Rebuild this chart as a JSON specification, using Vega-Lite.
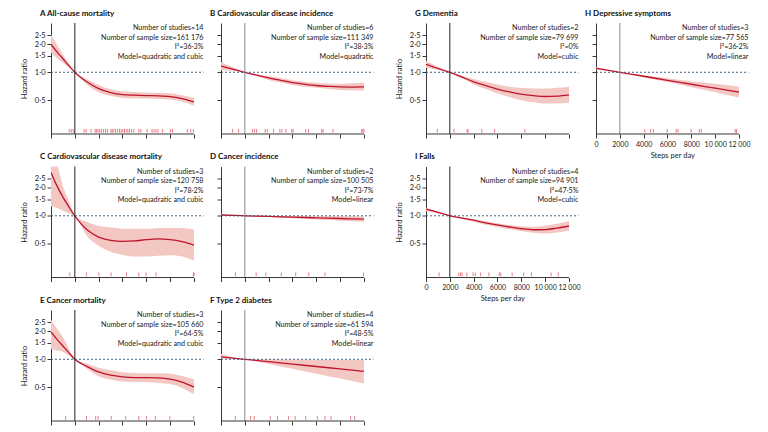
{
"$schema": "https://vega.github.io/schema/vega-lite/v6.json",
"padding": {"left": 20, "top": 9, "right": 2, "bottom": 2},
"bounds": "flush",
"columns": 4,
"spacing": {"row": 32.5, "column": 17},
"datasets": {
"curve": [
{"p":"A","steps":0,"hr":2.0,"lo":1.63,"hi":2.56},{"p":"A","steps":500,"hr":1.66,"lo":1.42,"hi":1.98},{"p":"A","steps":1000,"hr":1.40,"lo":1.27,"hi":1.56},{"p":"A","steps":1500,"hr":1.18,"lo":1.12,"hi":1.25},{"p":"A","steps":2000,"hr":1,"lo":1,"hi":1},{"p":"A","steps":3000,"hr":0.79,"lo":0.74,"hi":0.84},{"p":"A","steps":4000,"hr":0.667,"lo":0.61,"hi":0.73},{"p":"A","steps":5000,"hr":0.605,"lo":0.557,"hi":0.656},{"p":"A","steps":6000,"hr":0.575,"lo":0.53,"hi":0.625},{"p":"A","steps":7000,"hr":0.566,"lo":0.522,"hi":0.612},{"p":"A","steps":8000,"hr":0.56,"lo":0.52,"hi":0.605},{"p":"A","steps":9000,"hr":0.557,"lo":0.515,"hi":0.6},{"p":"A","steps":10000,"hr":0.547,"lo":0.51,"hi":0.595},{"p":"A","steps":11000,"hr":0.52,"lo":0.485,"hi":0.566},{"p":"A","steps":12000,"hr":0.48,"lo":0.435,"hi":0.53},
{"p":"B","steps":0,"hr":1.17,"lo":1.06,"hi":1.29},{"p":"B","steps":1000,"hr":1.08,"lo":1.03,"hi":1.13},{"p":"B","steps":2000,"hr":1,"lo":1,"hi":1},{"p":"B","steps":3000,"hr":0.93,"lo":0.91,"hi":0.955},{"p":"B","steps":4000,"hr":0.87,"lo":0.827,"hi":0.913},{"p":"B","steps":5000,"hr":0.82,"lo":0.775,"hi":0.865},{"p":"B","steps":6000,"hr":0.775,"lo":0.73,"hi":0.82},{"p":"B","steps":7000,"hr":0.745,"lo":0.7,"hi":0.79},{"p":"B","steps":8000,"hr":0.72,"lo":0.68,"hi":0.77},{"p":"B","steps":9000,"hr":0.705,"lo":0.66,"hi":0.757},{"p":"B","steps":10000,"hr":0.695,"lo":0.645,"hi":0.75},{"p":"B","steps":11000,"hr":0.693,"lo":0.64,"hi":0.76},{"p":"B","steps":12000,"hr":0.695,"lo":0.635,"hi":0.775},
{"p":"C","steps":0,"hr":2.93,"lo":1.26,"hi":4.5},{"p":"C","steps":500,"hr":2.1,"lo":1.22,"hi":3.6},{"p":"C","steps":1000,"hr":1.59,"lo":1.13,"hi":2.1},{"p":"C","steps":1500,"hr":1.25,"lo":1.06,"hi":1.45},{"p":"C","steps":2000,"hr":1,"lo":1,"hi":1},{"p":"C","steps":3000,"hr":0.71,"lo":0.61,"hi":0.86},{"p":"C","steps":4000,"hr":0.59,"lo":0.475,"hi":0.776},{"p":"C","steps":5000,"hr":0.544,"lo":0.41,"hi":0.75},{"p":"C","steps":6000,"hr":0.53,"lo":0.38,"hi":0.725},{"p":"C","steps":7000,"hr":0.535,"lo":0.363,"hi":0.725},{"p":"C","steps":8000,"hr":0.553,"lo":0.363,"hi":0.725},{"p":"C","steps":9000,"hr":0.563,"lo":0.37,"hi":0.74},{"p":"C","steps":10000,"hr":0.553,"lo":0.375,"hi":0.74},{"p":"C","steps":11000,"hr":0.526,"lo":0.363,"hi":0.74},{"p":"C","steps":12000,"hr":0.483,"lo":0.328,"hi":0.71},
{"p":"D","steps":0,"hr":1.02,"lo":1.0,"hi":1.04},{"p":"D","steps":2000,"hr":1,"lo":1,"hi":1},{"p":"D","steps":4000,"hr":0.983,"lo":0.97,"hi":0.997},{"p":"D","steps":6000,"hr":0.966,"lo":0.94,"hi":0.993},{"p":"D","steps":8000,"hr":0.95,"lo":0.91,"hi":0.99},{"p":"D","steps":10000,"hr":0.935,"lo":0.885,"hi":0.987},{"p":"D","steps":12000,"hr":0.92,"lo":0.86,"hi":0.985},
{"p":"E","steps":0,"hr":1.97,"lo":1.3,"hi":2.67},{"p":"E","steps":500,"hr":1.64,"lo":1.24,"hi":2.15},{"p":"E","steps":1000,"hr":1.39,"lo":1.2,"hi":1.74},{"p":"E","steps":1500,"hr":1.18,"lo":1.09,"hi":1.3},{"p":"E","steps":2000,"hr":1,"lo":1,"hi":1},{"p":"E","steps":3000,"hr":0.84,"lo":0.79,"hi":0.9},{"p":"E","steps":4000,"hr":0.73,"lo":0.657,"hi":0.81},{"p":"E","steps":5000,"hr":0.673,"lo":0.605,"hi":0.76},{"p":"E","steps":6000,"hr":0.646,"lo":0.575,"hi":0.725},{"p":"E","steps":7000,"hr":0.635,"lo":0.568,"hi":0.712},{"p":"E","steps":8000,"hr":0.635,"lo":0.566,"hi":0.707},{"p":"E","steps":9000,"hr":0.63,"lo":0.555,"hi":0.705},{"p":"E","steps":10000,"hr":0.61,"lo":0.54,"hi":0.7},{"p":"E","steps":11000,"hr":0.566,"lo":0.49,"hi":0.66},{"p":"E","steps":12000,"hr":0.5,"lo":0.42,"hi":0.61},
{"p":"F","steps":0,"hr":1.06,"lo":1.02,"hi":1.15},{"p":"F","steps":2000,"hr":1,"lo":1,"hi":1},{"p":"F","steps":4000,"hr":0.942,"lo":0.89,"hi":0.995},{"p":"F","steps":6000,"hr":0.888,"lo":0.79,"hi":0.99},{"p":"F","steps":8000,"hr":0.836,"lo":0.7,"hi":0.985},{"p":"F","steps":10000,"hr":0.788,"lo":0.62,"hi":0.98},{"p":"F","steps":12000,"hr":0.742,"lo":0.547,"hi":0.98},
{"p":"G","steps":0,"hr":1.22,"lo":1.12,"hi":1.33},{"p":"G","steps":1000,"hr":1.1,"lo":1.06,"hi":1.15},{"p":"G","steps":2000,"hr":1,"lo":1,"hi":1},{"p":"G","steps":3000,"hr":0.89,"lo":0.86,"hi":0.92},{"p":"G","steps":4000,"hr":0.79,"lo":0.74,"hi":0.846},{"p":"G","steps":5000,"hr":0.72,"lo":0.66,"hi":0.79},{"p":"G","steps":6000,"hr":0.66,"lo":0.59,"hi":0.74},{"p":"G","steps":7000,"hr":0.615,"lo":0.54,"hi":0.7},{"p":"G","steps":8000,"hr":0.58,"lo":0.5,"hi":0.68},{"p":"G","steps":9000,"hr":0.56,"lo":0.475,"hi":0.67},{"p":"G","steps":10000,"hr":0.548,"lo":0.46,"hi":0.67},{"p":"G","steps":11000,"hr":0.552,"lo":0.46,"hi":0.68},{"p":"G","steps":12000,"hr":0.57,"lo":0.47,"hi":0.7},
{"p":"H","steps":0,"hr":1.104,"lo":1.07,"hi":1.14},{"p":"H","steps":2000,"hr":1,"lo":1,"hi":1},{"p":"H","steps":4000,"hr":0.906,"lo":0.88,"hi":0.93},{"p":"H","steps":6000,"hr":0.82,"lo":0.785,"hi":0.86},{"p":"H","steps":8000,"hr":0.743,"lo":0.69,"hi":0.8},{"p":"H","steps":10000,"hr":0.673,"lo":0.61,"hi":0.75},{"p":"H","steps":12000,"hr":0.61,"lo":0.534,"hi":0.7},
{"p":"I","steps":0,"hr":1.18,"lo":1.125,"hi":1.22},{"p":"I","steps":1000,"hr":1.09,"lo":1.06,"hi":1.11},{"p":"I","steps":2000,"hr":1,"lo":1,"hi":1},{"p":"I","steps":3000,"hr":0.945,"lo":0.925,"hi":0.96},{"p":"I","steps":4000,"hr":0.896,"lo":0.86,"hi":0.92},{"p":"I","steps":5000,"hr":0.84,"lo":0.8,"hi":0.875},{"p":"I","steps":6000,"hr":0.796,"lo":0.757,"hi":0.83},{"p":"I","steps":7000,"hr":0.757,"lo":0.715,"hi":0.795},{"p":"I","steps":8000,"hr":0.725,"lo":0.68,"hi":0.77},{"p":"I","steps":9000,"hr":0.707,"lo":0.655,"hi":0.76},{"p":"I","steps":10000,"hr":0.71,"lo":0.645,"hi":0.78},{"p":"I","steps":11000,"hr":0.737,"lo":0.66,"hi":0.82},{"p":"I","steps":12000,"hr":0.776,"lo":0.695,"hi":0.88}
],
"rug": [
{"p":"A","steps":1530},{"p":"A","steps":1700},{"p":"A","steps":1860},{"p":"A","steps":2780},{"p":"A","steps":2950},{"p":"A","steps":3360},{"p":"A","steps":3700},{"p":"A","steps":3810},{"p":"A","steps":3950},{"p":"A","steps":4090},{"p":"A","steps":4250},{"p":"A","steps":4420},{"p":"A","steps":4590},{"p":"A","steps":4750},{"p":"A","steps":5030},{"p":"A","steps":5140},{"p":"A","steps":5280},{"p":"A","steps":5420},{"p":"A","steps":5590},{"p":"A","steps":5750},{"p":"A","steps":5890},{"p":"A","steps":6030},{"p":"A","steps":6170},{"p":"A","steps":6310},{"p":"A","steps":6450},{"p":"A","steps":6590},{"p":"A","steps":6760},{"p":"A","steps":6950},{"p":"A","steps":7370},{"p":"A","steps":7540},{"p":"A","steps":8060},{"p":"A","steps":8480},{"p":"A","steps":8650},{"p":"A","steps":8810},{"p":"A","steps":8980},{"p":"A","steps":9370},{"p":"A","steps":10040},{"p":"A","steps":10200},{"p":"A","steps":11450},{"p":"A","steps":11730},{"p":"A","steps":11950},
{"p":"B","steps":976},{"p":"B","steps":1480},{"p":"B","steps":2650},{"p":"B","steps":2820},{"p":"B","steps":2990},{"p":"B","steps":3710},{"p":"B","steps":3880},{"p":"B","steps":4410},{"p":"B","steps":4940},{"p":"B","steps":5110},{"p":"B","steps":5440},{"p":"B","steps":5940},{"p":"B","steps":6050},{"p":"B","steps":7110},{"p":"B","steps":7340},{"p":"B","steps":8450},{"p":"B","steps":8570},{"p":"B","steps":9400},{"p":"B","steps":11800},{"p":"B","steps":11910},{"p":"B","steps":12000},
{"p":"C","steps":1580},{"p":"C","steps":2970},{"p":"C","steps":4030},{"p":"C","steps":5040},{"p":"C","steps":6340},{"p":"C","steps":7370},{"p":"C","steps":7980},{"p":"C","steps":8810},{"p":"C","steps":11950},{"p":"C","steps":12000},
{"p":"D","steps":1210},{"p":"D","steps":2950},{"p":"D","steps":3760},{"p":"D","steps":5060},{"p":"D","steps":6270},{"p":"D","steps":7370},{"p":"D","steps":8730},{"p":"D","steps":11960},
{"p":"E","steps":1230},{"p":"E","steps":2980},{"p":"E","steps":3750},{"p":"E","steps":3950},{"p":"E","steps":5050},{"p":"E","steps":6270},{"p":"E","steps":7370},{"p":"E","steps":8010},{"p":"E","steps":8760},{"p":"E","steps":9980},{"p":"E","steps":11980},
{"p":"F","steps":1200},{"p":"F","steps":2480},{"p":"F","steps":2790},{"p":"F","steps":4130},{"p":"F","steps":4740},{"p":"F","steps":5660},{"p":"F","steps":6220},{"p":"F","steps":7110},{"p":"F","steps":8090},{"p":"F","steps":8730},{"p":"F","steps":9230},{"p":"F","steps":10880},{"p":"F","steps":11220},
{"p":"G","steps":950},{"p":"G","steps":2350},{"p":"G","steps":3450},{"p":"G","steps":3530},{"p":"G","steps":4680},{"p":"G","steps":5760},{"p":"G","steps":8300},
{"p":"H","steps":4090},{"p":"H","steps":4590},{"p":"H","steps":4810},{"p":"H","steps":5980},{"p":"H","steps":6730},{"p":"H","steps":6890},{"p":"H","steps":7980},{"p":"H","steps":8670},{"p":"H","steps":8840},{"p":"H","steps":11680},{"p":"H","steps":11790},
{"p":"I","steps":1100},{"p":"I","steps":2750},{"p":"I","steps":2900},{"p":"I","steps":3020},{"p":"I","steps":3430},{"p":"I","steps":3950},{"p":"I","steps":4140},{"p":"I","steps":4570},{"p":"I","steps":5280},{"p":"I","steps":6150},{"p":"I","steps":6280},{"p":"I","steps":7230},{"p":"I","steps":8200},{"p":"I","steps":8850},{"p":"I","steps":10500},{"p":"I","steps":11100}
],
"info": [
{"p":"A","label":"Number of studies=14\nNumber of sample size=161 176\nI²=36·3%\nModel=quadratic and cubic"},
{"p":"B","label":"Number of studies=6\nNumber of sample size=111 349\nI²=38·3%\nModel=quadratic"},
{"p":"C","label":"Number of studies=3\nNumber of sample size=120 758\nI²=78·2%\nModel=quadratic and cubic"},
{"p":"D","label":"Number of studies=2\nNumber of sample size=100 505\nI²=73·7%\nModel=linear"},
{"p":"E","label":"Number of studies=3\nNumber of sample size=105 660\nI²=64·5%\nModel=quadratic and cubic"},
{"p":"F","label":"Number of studies=4\nNumber of sample size=61 594\nI²=48·5%\nModel=linear"},
{"p":"G","label":"Number of studies=2\nNumber of sample size=79 699\nI²=0%\nModel=cubic"},
{"p":"H","label":"Number of studies=3\nNumber of sample size=77 565\nI²=36·2%\nModel=linear"},
{"p":"I","label":"Number of studies=4\nNumber of sample size=94 901\nI²=47·5%\nModel=cubic"}
]
},
"concat": [
{"width": 152.5, "height": 111, "title": "A  All-cause mortality",
 "data": {"name": "info"}, "transform": [{"filter": "datum.p=='A'"}],
 "layer": [
  {"data": {"name": "curve"}, "transform": [{"filter": "datum.p=='A'"}], "mark": {"type": "area", "color": "#f3c8c3", "interpolate": "monotone", "clip": true},
   "encoding": {"x": {"field": "steps", "type": "quantitative", "scale": {"domain": [0, 12800], "nice": false}, "axis": {"values": [0,2000,4000,6000,8000,10000,12000], "tickCount": 20, "labels": false, "domain": false, "tickSize": 4, "title": null, "grid": false}},
    "y": {"field": "lo", "type": "quantitative", "scale": {"type": "log", "domain": [0.216, 3.4], "nice": false}, "axis": {"values": [0.5,1,1.5,2,2.5], "tickCount": 20, "tickSize": 4, "grid": false, "title": "Hazard ratio", "labelExpr": "replace(format(datum.value,'.1f'),'.','·')", "labelPadding": 2, "titlePadding": 6}},
    "y2": {"field": "hi"}}},
  {"data": {"name": "curve"}, "transform": [{"filter": "datum.p=='A'"}], "mark": {"type": "line", "color": "#c0132d", "strokeWidth": 1.3, "interpolate": "monotone", "clip": true},
   "encoding": {"x": {"field": "steps", "type": "quantitative"}, "y": {"field": "hr", "type": "quantitative"}}},
  {"mark": {"type": "rule", "color": "#222", "strokeWidth": 1}, "encoding": {"x": {"datum": 2000}}},
  {"mark": {"type": "rule", "color": "#2d5675", "strokeDash": [2, 2], "strokeWidth": 0.9}, "encoding": {"x": {"datum": 0}, "x2": {"datum": 12800}, "y": {"datum": 1}}},
  {"mark": {"type": "rule", "color": "#222", "strokeWidth": 0.9}, "encoding": {"x": {"datum": 0}, "x2": {"datum": 12000}, "y": {"datum": 0.216}}},
  {"data": {"name": "rug"}, "transform": [{"filter": "datum.p=='A'"}], "mark": {"type": "rule", "color": "#e25a66", "strokeWidth": 0.8}, "encoding": {"x": {"field": "steps", "type": "quantitative"}, "y": {"datum": 0.223}, "y2": {"datum": 0.245}}},
  {"mark": {"type": "text", "align": "right", "baseline": "top", "lineBreak": "\n", "lineHeight": 9.5, "dy": 1}, "encoding": {"x": {"datum": 12800}, "y": {"datum": 3.4}, "text": {"field": "label"}}}
 ]},
{"width": 188, "height": 111, "title": "B  Cardiovascular disease incidence",
 "data": {"name": "info"}, "transform": [{"filter": "datum.p=='B'"}],
 "layer": [
  {"data": {"name": "curve"}, "transform": [{"filter": "datum.p=='B'"}], "mark": {"type": "area", "color": "#f3c8c3", "interpolate": "monotone", "clip": true},
   "encoding": {"x": {"field": "steps", "type": "quantitative", "scale": {"domain": [0, 15780], "nice": false}, "axis": {"values": [0,2000,4000,6000,8000,10000,12000], "tickCount": 20, "labels": false, "domain": false, "tickSize": 4, "title": null, "grid": false}},
    "y": {"field": "lo", "type": "quantitative", "scale": {"type": "log", "domain": [0.216, 3.4], "nice": false}, "axis": {"values": [0.5,1,1.5,2,2.5], "tickCount": 20, "tickSize": 4, "grid": false, "title": null, "labels": false}},
    "y2": {"field": "hi"}}},
  {"data": {"name": "curve"}, "transform": [{"filter": "datum.p=='B'"}], "mark": {"type": "line", "color": "#c0132d", "strokeWidth": 1.3, "interpolate": "monotone", "clip": true},
   "encoding": {"x": {"field": "steps", "type": "quantitative"}, "y": {"field": "hr", "type": "quantitative"}}},
  {"mark": {"type": "rule", "color": "#8a8a8a", "strokeWidth": 1}, "encoding": {"x": {"datum": 2000}}},
  {"mark": {"type": "rule", "color": "#2d5675", "strokeDash": [2, 2], "strokeWidth": 0.9}, "encoding": {"x": {"datum": 0}, "x2": {"datum": 12800}, "y": {"datum": 1}}},
  {"mark": {"type": "rule", "color": "#222", "strokeWidth": 0.9}, "encoding": {"x": {"datum": 0}, "x2": {"datum": 12000}, "y": {"datum": 0.216}}},
  {"data": {"name": "rug"}, "transform": [{"filter": "datum.p=='B'"}], "mark": {"type": "rule", "color": "#e25a66", "strokeWidth": 0.8}, "encoding": {"x": {"field": "steps", "type": "quantitative"}, "y": {"datum": 0.223}, "y2": {"datum": 0.245}}},
  {"mark": {"type": "text", "align": "right", "baseline": "top", "lineBreak": "\n", "lineHeight": 9.5, "dy": 1}, "encoding": {"x": {"datum": 12800}, "y": {"datum": 3.4}, "text": {"field": "label"}}}
 ]},
{"width": 152.5, "height": 111, "title": "G  Dementia",
 "data": {"name": "info"}, "transform": [{"filter": "datum.p=='G'"}],
 "layer": [
  {"data": {"name": "curve"}, "transform": [{"filter": "datum.p=='G'"}], "mark": {"type": "area", "color": "#f3c8c3", "interpolate": "monotone", "clip": true},
   "encoding": {"x": {"field": "steps", "type": "quantitative", "scale": {"domain": [0, 12800], "nice": false}, "axis": {"values": [0,2000,4000,6000,8000,10000,12000], "tickCount": 20, "labels": false, "domain": false, "tickSize": 4, "title": null, "grid": false}},
    "y": {"field": "lo", "type": "quantitative", "scale": {"type": "log", "domain": [0.216, 3.4], "nice": false}, "axis": {"values": [0.5,1,1.5,2,2.5], "tickCount": 20, "tickSize": 4, "grid": false, "title": "Hazard ratio", "labelExpr": "replace(format(datum.value,'.1f'),'.','·')", "labelPadding": 2, "titlePadding": 6}},
    "y2": {"field": "hi"}}},
  {"data": {"name": "curve"}, "transform": [{"filter": "datum.p=='G'"}], "mark": {"type": "line", "color": "#c0132d", "strokeWidth": 1.3, "interpolate": "monotone", "clip": true},
   "encoding": {"x": {"field": "steps", "type": "quantitative"}, "y": {"field": "hr", "type": "quantitative"}}},
  {"mark": {"type": "rule", "color": "#222", "strokeWidth": 1}, "encoding": {"x": {"datum": 2000}}},
  {"mark": {"type": "rule", "color": "#2d5675", "strokeDash": [2, 2], "strokeWidth": 0.9}, "encoding": {"x": {"datum": 0}, "x2": {"datum": 12800}, "y": {"datum": 1}}},
  {"mark": {"type": "rule", "color": "#222", "strokeWidth": 0.9}, "encoding": {"x": {"datum": 0}, "x2": {"datum": 12000}, "y": {"datum": 0.216}}},
  {"data": {"name": "rug"}, "transform": [{"filter": "datum.p=='G'"}], "mark": {"type": "rule", "color": "#e25a66", "strokeWidth": 0.8}, "encoding": {"x": {"field": "steps", "type": "quantitative"}, "y": {"datum": 0.223}, "y2": {"datum": 0.245}}},
  {"mark": {"type": "text", "align": "right", "baseline": "top", "lineBreak": "\n", "lineHeight": 9.5, "dy": 1}, "encoding": {"x": {"datum": 12800}, "y": {"datum": 3.4}, "text": {"field": "label"}}}
 ]},
{"width": 152.5, "height": 111, "title": "H  Depressive symptoms",
 "data": {"name": "info"}, "transform": [{"filter": "datum.p=='H'"}],
 "layer": [
  {"data": {"name": "curve"}, "transform": [{"filter": "datum.p=='H'"}], "mark": {"type": "area", "color": "#f3c8c3", "interpolate": "monotone", "clip": true},
   "encoding": {"x": {"field": "steps", "type": "quantitative", "scale": {"domain": [0, 12800], "nice": false}, "axis": {"values": [0,2000,4000,6000,8000,10000,12000], "tickCount": 20, "domain": false, "tickSize": 4, "title": "Steps per day", "grid": false, "labelOverlap": false, "labelFlush": false, "labelBound": false, "labelFontSize": 7, "labelExpr": "datum.value >= 10000 ? (datum.value/1000) + ' 000' : format(datum.value, 'd')", "labelPadding": 2, "titlePadding": 4}},
    "y": {"field": "lo", "type": "quantitative", "scale": {"type": "log", "domain": [0.216, 3.4], "nice": false}, "axis": {"values": [0.5,1,1.5,2,2.5], "tickCount": 20, "tickSize": 4, "grid": false, "title": null, "labels": false}},
    "y2": {"field": "hi"}}},
  {"data": {"name": "curve"}, "transform": [{"filter": "datum.p=='H'"}], "mark": {"type": "line", "color": "#c0132d", "strokeWidth": 1.3, "interpolate": "monotone", "clip": true},
   "encoding": {"x": {"field": "steps", "type": "quantitative"}, "y": {"field": "hr", "type": "quantitative"}}},
  {"mark": {"type": "rule", "color": "#8a8a8a", "strokeWidth": 1}, "encoding": {"x": {"datum": 2000}}},
  {"mark": {"type": "rule", "color": "#2d5675", "strokeDash": [2, 2], "strokeWidth": 0.9}, "encoding": {"x": {"datum": 0}, "x2": {"datum": 12800}, "y": {"datum": 1}}},
  {"mark": {"type": "rule", "color": "#222", "strokeWidth": 0.9}, "encoding": {"x": {"datum": 0}, "x2": {"datum": 12000}, "y": {"datum": 0.216}}},
  {"data": {"name": "rug"}, "transform": [{"filter": "datum.p=='H'"}], "mark": {"type": "rule", "color": "#e25a66", "strokeWidth": 0.8}, "encoding": {"x": {"field": "steps", "type": "quantitative"}, "y": {"datum": 0.223}, "y2": {"datum": 0.245}}},
  {"mark": {"type": "text", "align": "right", "baseline": "top", "lineBreak": "\n", "lineHeight": 9.5, "dy": 1}, "encoding": {"x": {"datum": 12800}, "y": {"datum": 3.4}, "text": {"field": "label"}}}
 ]},
{"width": 152.5, "height": 111, "title": "C  Cardiovascular disease mortality",
 "data": {"name": "info"}, "transform": [{"filter": "datum.p=='C'"}],
 "layer": [
  {"data": {"name": "curve"}, "transform": [{"filter": "datum.p=='C'"}], "mark": {"type": "area", "color": "#f3c8c3", "interpolate": "monotone", "clip": true},
   "encoding": {"x": {"field": "steps", "type": "quantitative", "scale": {"domain": [0, 12800], "nice": false}, "axis": {"values": [0,2000,4000,6000,8000,10000,12000], "tickCount": 20, "labels": false, "domain": false, "tickSize": 4, "title": null, "grid": false}},
    "y": {"field": "lo", "type": "quantitative", "scale": {"type": "log", "domain": [0.216, 3.4], "nice": false}, "axis": {"values": [0.5,1,1.5,2,2.5], "tickCount": 20, "tickSize": 4, "grid": false, "title": "Hazard ratio", "labelExpr": "replace(format(datum.value,'.1f'),'.','·')", "labelPadding": 2, "titlePadding": 6}},
    "y2": {"field": "hi"}}},
  {"data": {"name": "curve"}, "transform": [{"filter": "datum.p=='C'"}], "mark": {"type": "line", "color": "#c0132d", "strokeWidth": 1.3, "interpolate": "monotone", "clip": true},
   "encoding": {"x": {"field": "steps", "type": "quantitative"}, "y": {"field": "hr", "type": "quantitative"}}},
  {"mark": {"type": "rule", "color": "#222", "strokeWidth": 1}, "encoding": {"x": {"datum": 2000}}},
  {"mark": {"type": "rule", "color": "#2d5675", "strokeDash": [2, 2], "strokeWidth": 0.9}, "encoding": {"x": {"datum": 0}, "x2": {"datum": 12800}, "y": {"datum": 1}}},
  {"mark": {"type": "rule", "color": "#222", "strokeWidth": 0.9}, "encoding": {"x": {"datum": 0}, "x2": {"datum": 12000}, "y": {"datum": 0.216}}},
  {"data": {"name": "rug"}, "transform": [{"filter": "datum.p=='C'"}], "mark": {"type": "rule", "color": "#e25a66", "strokeWidth": 0.8}, "encoding": {"x": {"field": "steps", "type": "quantitative"}, "y": {"datum": 0.223}, "y2": {"datum": 0.245}}},
  {"mark": {"type": "text", "align": "right", "baseline": "top", "lineBreak": "\n", "lineHeight": 9.5, "dy": 1}, "encoding": {"x": {"datum": 12800}, "y": {"datum": 3.4}, "text": {"field": "label"}}}
 ]},
{"width": 188, "height": 111, "title": "D  Cancer incidence",
 "data": {"name": "info"}, "transform": [{"filter": "datum.p=='D'"}],
 "layer": [
  {"data": {"name": "curve"}, "transform": [{"filter": "datum.p=='D'"}], "mark": {"type": "area", "color": "#f3c8c3", "interpolate": "monotone", "clip": true},
   "encoding": {"x": {"field": "steps", "type": "quantitative", "scale": {"domain": [0, 15780], "nice": false}, "axis": {"values": [0,2000,4000,6000,8000,10000,12000], "tickCount": 20, "labels": false, "domain": false, "tickSize": 4, "title": null, "grid": false}},
    "y": {"field": "lo", "type": "quantitative", "scale": {"type": "log", "domain": [0.216, 3.4], "nice": false}, "axis": {"values": [0.5,1,1.5,2,2.5], "tickCount": 20, "tickSize": 4, "grid": false, "title": null, "labels": false}},
    "y2": {"field": "hi"}}},
  {"data": {"name": "curve"}, "transform": [{"filter": "datum.p=='D'"}], "mark": {"type": "line", "color": "#c0132d", "strokeWidth": 1.3, "interpolate": "monotone", "clip": true},
   "encoding": {"x": {"field": "steps", "type": "quantitative"}, "y": {"field": "hr", "type": "quantitative"}}},
  {"mark": {"type": "rule", "color": "#8a8a8a", "strokeWidth": 1}, "encoding": {"x": {"datum": 2000}}},
  {"mark": {"type": "rule", "color": "#2d5675", "strokeDash": [2, 2], "strokeWidth": 0.9}, "encoding": {"x": {"datum": 0}, "x2": {"datum": 12800}, "y": {"datum": 1}}},
  {"mark": {"type": "rule", "color": "#222", "strokeWidth": 0.9}, "encoding": {"x": {"datum": 0}, "x2": {"datum": 12000}, "y": {"datum": 0.216}}},
  {"data": {"name": "rug"}, "transform": [{"filter": "datum.p=='D'"}], "mark": {"type": "rule", "color": "#e25a66", "strokeWidth": 0.8}, "encoding": {"x": {"field": "steps", "type": "quantitative"}, "y": {"datum": 0.223}, "y2": {"datum": 0.245}}},
  {"mark": {"type": "text", "align": "right", "baseline": "top", "lineBreak": "\n", "lineHeight": 9.5, "dy": 1}, "encoding": {"x": {"datum": 12800}, "y": {"datum": 3.4}, "text": {"field": "label"}}}
 ]},
{"width": 152.5, "height": 111, "title": "I  Falls",
 "data": {"name": "info"}, "transform": [{"filter": "datum.p=='I'"}],
 "layer": [
  {"data": {"name": "curve"}, "transform": [{"filter": "datum.p=='I'"}], "mark": {"type": "area", "color": "#f3c8c3", "interpolate": "monotone", "clip": true},
   "encoding": {"x": {"field": "steps", "type": "quantitative", "scale": {"domain": [0, 12800], "nice": false}, "axis": {"values": [0,2000,4000,6000,8000,10000,12000], "tickCount": 20, "domain": false, "tickSize": 4, "title": "Steps per day", "grid": false, "labelOverlap": false, "labelFlush": false, "labelBound": false, "labelFontSize": 7, "labelExpr": "datum.value >= 10000 ? (datum.value/1000) + ' 000' : format(datum.value, 'd')", "labelPadding": 2, "titlePadding": 4}},
    "y": {"field": "lo", "type": "quantitative", "scale": {"type": "log", "domain": [0.216, 3.4], "nice": false}, "axis": {"values": [0.5,1,1.5,2,2.5], "tickCount": 20, "tickSize": 4, "grid": false, "title": "Hazard ratio", "labelExpr": "replace(format(datum.value,'.1f'),'.','·')", "labelPadding": 2, "titlePadding": 6}},
    "y2": {"field": "hi"}}},
  {"data": {"name": "curve"}, "transform": [{"filter": "datum.p=='I'"}], "mark": {"type": "line", "color": "#c0132d", "strokeWidth": 1.3, "interpolate": "monotone", "clip": true},
   "encoding": {"x": {"field": "steps", "type": "quantitative"}, "y": {"field": "hr", "type": "quantitative"}}},
  {"mark": {"type": "rule", "color": "#222", "strokeWidth": 1}, "encoding": {"x": {"datum": 2000}}},
  {"mark": {"type": "rule", "color": "#2d5675", "strokeDash": [2, 2], "strokeWidth": 0.9}, "encoding": {"x": {"datum": 0}, "x2": {"datum": 12800}, "y": {"datum": 1}}},
  {"mark": {"type": "rule", "color": "#222", "strokeWidth": 0.9}, "encoding": {"x": {"datum": 0}, "x2": {"datum": 12000}, "y": {"datum": 0.216}}},
  {"data": {"name": "rug"}, "transform": [{"filter": "datum.p=='I'"}], "mark": {"type": "rule", "color": "#e25a66", "strokeWidth": 0.8}, "encoding": {"x": {"field": "steps", "type": "quantitative"}, "y": {"datum": 0.223}, "y2": {"datum": 0.245}}},
  {"mark": {"type": "text", "align": "right", "baseline": "top", "lineBreak": "\n", "lineHeight": 9.5, "dy": 1}, "encoding": {"x": {"datum": 12800}, "y": {"datum": 3.4}, "text": {"field": "label"}}}
 ]},
{"width": 152.5, "height": 111, "data": {"name": "info"}, "transform": [{"filter": "false"}], "mark": {"type": "point"}, "encoding": {}},
{"width": 152.5, "height": 111, "title": "E  Cancer mortality",
 "data": {"name": "info"}, "transform": [{"filter": "datum.p=='E'"}],
 "layer": [
  {"data": {"name": "curve"}, "transform": [{"filter": "datum.p=='E'"}], "mark": {"type": "area", "color": "#f3c8c3", "interpolate": "monotone", "clip": true},
   "encoding": {"x": {"field": "steps", "type": "quantitative", "scale": {"domain": [0, 12800], "nice": false}, "axis": {"values": [0,2000,4000,6000,8000,10000,12000], "tickCount": 20, "labels": false, "domain": false, "tickSize": 4, "title": null, "grid": false}},
    "y": {"field": "lo", "type": "quantitative", "scale": {"type": "log", "domain": [0.216, 3.4], "nice": false}, "axis": {"values": [0.5,1,1.5,2,2.5], "tickCount": 20, "tickSize": 4, "grid": false, "title": "Hazard ratio", "labelExpr": "replace(format(datum.value,'.1f'),'.','·')", "labelPadding": 2, "titlePadding": 6}},
    "y2": {"field": "hi"}}},
  {"data": {"name": "curve"}, "transform": [{"filter": "datum.p=='E'"}], "mark": {"type": "line", "color": "#c0132d", "strokeWidth": 1.3, "interpolate": "monotone", "clip": true},
   "encoding": {"x": {"field": "steps", "type": "quantitative"}, "y": {"field": "hr", "type": "quantitative"}}},
  {"mark": {"type": "rule", "color": "#222", "strokeWidth": 1}, "encoding": {"x": {"datum": 2000}}},
  {"mark": {"type": "rule", "color": "#2d5675", "strokeDash": [2, 2], "strokeWidth": 0.9}, "encoding": {"x": {"datum": 0}, "x2": {"datum": 12800}, "y": {"datum": 1}}},
  {"mark": {"type": "rule", "color": "#222", "strokeWidth": 0.9}, "encoding": {"x": {"datum": 0}, "x2": {"datum": 12000}, "y": {"datum": 0.216}}},
  {"data": {"name": "rug"}, "transform": [{"filter": "datum.p=='E'"}], "mark": {"type": "rule", "color": "#e25a66", "strokeWidth": 0.8}, "encoding": {"x": {"field": "steps", "type": "quantitative"}, "y": {"datum": 0.223}, "y2": {"datum": 0.245}}},
  {"mark": {"type": "text", "align": "right", "baseline": "top", "lineBreak": "\n", "lineHeight": 9.5, "dy": 1}, "encoding": {"x": {"datum": 12800}, "y": {"datum": 3.4}, "text": {"field": "label"}}}
 ]},
{"width": 188, "height": 111, "title": "F  Type 2 diabetes",
 "data": {"name": "info"}, "transform": [{"filter": "datum.p=='F'"}],
 "layer": [
  {"data": {"name": "curve"}, "transform": [{"filter": "datum.p=='F'"}], "mark": {"type": "area", "color": "#f3c8c3", "interpolate": "monotone", "clip": true},
   "encoding": {"x": {"field": "steps", "type": "quantitative", "scale": {"domain": [0, 15780], "nice": false}, "axis": {"values": [0,2000,4000,6000,8000,10000,12000], "tickCount": 20, "labels": false, "domain": false, "tickSize": 4, "title": null, "grid": false}},
    "y": {"field": "lo", "type": "quantitative", "scale": {"type": "log", "domain": [0.216, 3.4], "nice": false}, "axis": {"values": [0.5,1,1.5,2,2.5], "tickCount": 20, "tickSize": 4, "grid": false, "title": null, "labels": false}},
    "y2": {"field": "hi"}}},
  {"data": {"name": "curve"}, "transform": [{"filter": "datum.p=='F'"}], "mark": {"type": "line", "color": "#c0132d", "strokeWidth": 1.3, "interpolate": "monotone", "clip": true},
   "encoding": {"x": {"field": "steps", "type": "quantitative"}, "y": {"field": "hr", "type": "quantitative"}}},
  {"mark": {"type": "rule", "color": "#8a8a8a", "strokeWidth": 1}, "encoding": {"x": {"datum": 2000}}},
  {"mark": {"type": "rule", "color": "#2d5675", "strokeDash": [2, 2], "strokeWidth": 0.9}, "encoding": {"x": {"datum": 0}, "x2": {"datum": 12800}, "y": {"datum": 1}}},
  {"mark": {"type": "rule", "color": "#222", "strokeWidth": 0.9}, "encoding": {"x": {"datum": 0}, "x2": {"datum": 12000}, "y": {"datum": 0.216}}},
  {"data": {"name": "rug"}, "transform": [{"filter": "datum.p=='F'"}], "mark": {"type": "rule", "color": "#e25a66", "strokeWidth": 0.8}, "encoding": {"x": {"field": "steps", "type": "quantitative"}, "y": {"datum": 0.223}, "y2": {"datum": 0.245}}},
  {"mark": {"type": "text", "align": "right", "baseline": "top", "lineBreak": "\n", "lineHeight": 9.5, "dy": 1}, "encoding": {"x": {"datum": 12800}, "y": {"datum": 3.4}, "text": {"field": "label"}}}
 ]}
],
"config": {
 "font": "Lato",
 "view": {"stroke": null},
 "axis": {"domainColor": "#222", "tickColor": "#222", "labelColor": "#222", "titleColor": "#222", "labelFontSize": 7.5, "titleFontSize": 7.5, "titleFontWeight": "normal", "domainWidth": 0.9, "tickWidth": 0.9, "labelFont": "Lato", "titleFont": "Lato"},
 "title": {"anchor": "start", "frame": "group", "fontSize": 8, "fontWeight": "bold", "color": "#111", "dx": -11, "offset": 5, "font": "Lato"},
 "text": {"fontSize": 7.2, "color": "#222", "font": "Lato"}
}
}
